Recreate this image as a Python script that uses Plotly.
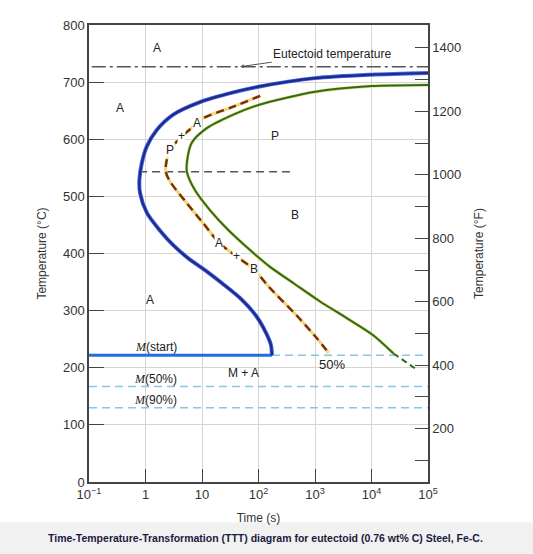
import math
import plotly.graph_objects as go

# ---------------- data ----------------
# transformation start curve (time in s, temperature in °C)
start_t = [100000, 10000, 1000, 100, 35.8, 9.2, 3.1, 1.58, 1.05, 0.86, 0.78, 0.80, 1.06, 1.81, 3.07,
           5.65, 11.3, 22.6, 47.1, 90.4, 136, 166, 173]
start_T = [716, 713, 707, 692, 682, 665, 643, 616, 587, 558, 529, 506, 471, 440, 415,
           392, 371, 348, 322, 291, 261, 240, 222]

# transformation finish curve
finish_t = [100000, 10000, 1000, 100, 35.8, 12, 6.6, 5.6, 5.4, 7.5, 13.8, 29.2, 70.8, 158, 417,
            1230, 3630, 10700, 24500]
finish_T = [695, 693, 683, 660, 643, 619, 594, 570, 543, 511, 476, 441, 406, 377, 348,
            316, 287, 257, 225]
finish_tail_t = [24500, 63000]
finish_tail_T = [225, 197]

# 50% transformation curve
half_t = [107, 35.8, 10.5, 8.3, 4.4, 2.7, 2.34, 2.29, 2.72, 5.4, 10.5, 20.4, 40.7, 83, 158, 479, 1070, 1740]
half_T = [676, 657, 637, 628, 605, 581, 560, 543, 526, 488, 453, 418, 395, 372, 340, 291, 252, 226]

eutectoid_T = 727
eutectoid_t = [0.112, 100000]
nose_T = 543
nose_t = [0.77, 390]
ms_T = 222
ms_solid_t = [0.1, 173]
ms_dash_t = [173, 100000]
m50_T = 167
m90_T = 130
m_line_t = [0.1, 100000]

x_tickvals = [0.1, 1, 10, 100, 1000, 10000, 100000]
x_ticktext = ["10<sup>−1</sup>", "1", "10", "10<sup>2</sup>", "10<sup>3</sup>", "10<sup>4</sup>", "10<sup>5</sup>"]
yC_ticks = [0, 100, 200, 300, 400, 500, 600, 700, 800]
yF_ticks = [100, 200, 300, 400, 500, 600, 700, 800, 900, 1000, 1100, 1200, 1300, 1400]
yF_labels = ["", "200", "", "400", "", "600", "", "800", "", "1000", "", "1200", "", "1400"]

# free labels (text, time s, temperature °C)
region_labels = [("A", 1.6, 760), ("A", 0.355, 655), ("P", 195, 606), ("B", 447, 468),
                 ("A", 1.2, 319), ("M + A", 54, 191)]
# labels sitting on the 50% curve
curve_labels = [("P", 2.7, 581), ("+", 4.4, 605), ("A", 8.3, 628),
                ("A", 20.4, 418), ("+", 40.7, 395), ("B", 83, 372)]

# ---------------- figure ----------------
fig = go.Figure()
TXT = "#333333"
FONT = "Liberation Sans, Arial, sans-serif"


def line(x, y, color, width, dash=None, shape="linear", yaxis="y"):
    fig.add_trace(go.Scatter(x=x, y=y, mode="lines", yaxis=yaxis, hoverinfo="skip",
                             line=dict(color=color, width=width, dash=dash, shape=shape, smoothing=0.8),
                             showlegend=False))


# reference horizontal lines
line(eutectoid_t, [eutectoid_T] * 2, "#555555", 1.5, dash="14px,4px,3px,4px")
line(nose_t, [nose_T] * 2, "#555555", 1.5, dash="8px,5px")
line(m_line_t, [m50_T] * 2, "#86c6e6", 1.5, dash="8px,5px")
line(m_line_t, [m90_T] * 2, "#86c6e6", 1.5, dash="8px,5px")
line(ms_dash_t, [ms_T] * 2, "#86c6e6", 1.5, dash="8px,5px")
line(ms_solid_t, [ms_T] * 2, "#1f6fe0", 3)

# start curve (navy with blue edges)
line(start_t, start_T, "#4a66e0", 4.0, shape="spline")
line(start_t, start_T, "#1c2a8c", 2.2, shape="spline")
# finish curve (green with yellow edge)
line(finish_t, finish_T, "#e6e070", 3.2, shape="spline")
line(finish_t, finish_T, "#2f6a22", 2.0, shape="spline")
line(finish_tail_t, finish_tail_T, "#2f6a22", 2.0, dash="6px,4px")
# 50% curve (brown dashes on yellow)
line(half_t, half_T, "#f0d878", 3.2, shape="spline")
line(half_t, half_T, "#7a2c10", 2.4, dash="8px,5px", shape="spline")

# invisible trace to activate y2
fig.add_trace(go.Scatter(x=[1], y=[500], yaxis="y2", mode="markers", marker=dict(opacity=0),
                         hoverinfo="skip", showlegend=False))

annotations = []


def lab(txt, t, T, size=12, bg=None):
    d = dict(x=math.log10(t), y=T, text=txt, showarrow=False,
             font=dict(size=size, color="#222", family=FONT))
    if bg:
        d.update(bgcolor=bg, borderpad=0)
    annotations.append(d)


for txt, t, T in region_labels:
    lab(txt, t, T)
for txt, t, T in curve_labels:
    lab(txt, t, T, 12, bg="white")

lab("<i style='font-family:\"Liberation Serif\"'>M</i>(start)", 1.53, 236, 12)
lab("<i style='font-family:\"Liberation Serif\"'>M</i>(50%)", 1.53, 180, 12)
lab("<i style='font-family:\"Liberation Serif\"'>M</i>(90%)", 1.53, 144, 12)
lab("50%", 1980, 205, 13)

annotations.append(dict(x=math.log10(47), y=727, ax=92, ay=-13, text="Eutectoid temperature",
                        showarrow=True, arrowhead=2, arrowsize=0.8, arrowwidth=1, arrowcolor="#555",
                        font=dict(size=12, color="#222", family=FONT)))

annotations.append(dict(x=0.52, y=-0.122, xref="paper", yref="paper", yanchor="middle",
                        text="<b>Time-Temperature-Transformation (TTT) diagram for eutectoid (0.76 wt% C) Steel, Fe-C.</b>",
                        showarrow=False, font=dict(size=10.5, color="#1b1b40", family=FONT)))

fig.update_layout(
    width=533, height=554,
    margin=dict(l=89, r=105, t=25, b=72),
    paper_bgcolor="white", plot_bgcolor="white",
    font=dict(family=FONT, color=TXT, size=13),
    annotations=annotations,
    shapes=[dict(type="rect", xref="paper", yref="paper", x0=-0.3, x1=1.4, y0=-0.16, y1=-0.088,
                 fillcolor="#f1f1f1", line=dict(width=0), layer="below")],
    xaxis=dict(type="log", range=[-1, 5], tickvals=x_tickvals, ticktext=x_ticktext,
               showgrid=True, gridcolor="#d4d4d4", gridwidth=1,
               ticks="inside", ticklen=13, tickcolor="#444", showline=True, linecolor="#444",
               linewidth=1.5, mirror=True, zeroline=False,
               title=dict(text="Time (s)", font=dict(size=12, color=TXT), standoff=12),
               tickfont=dict(size=13, color=TXT)),
    yaxis=dict(range=[0, 800], tickvals=yC_ticks, showgrid=True, gridcolor="#d4d4d4", gridwidth=1,
               ticks="inside", ticklen=15, tickcolor="#444", showline=True, linecolor="#444",
               linewidth=1.5, zeroline=False,
               title=dict(text="Temperature (°C)", font=dict(size=12, color=TXT), standoff=14),
               tickfont=dict(size=13, color=TXT)),
    yaxis2=dict(range=[32, 1472], overlaying="y", side="right", tickvals=yF_ticks, ticktext=yF_labels,
                showgrid=False, ticks="inside", ticklen=13, tickcolor="#444", showline=True,
                linecolor="#444", linewidth=1.5, zeroline=False,
                title=dict(text="Temperature (°F)", font=dict(size=12, color=TXT), standoff=14),
                tickfont=dict(size=13, color=TXT)),
)

fig.write_html("out.html")
